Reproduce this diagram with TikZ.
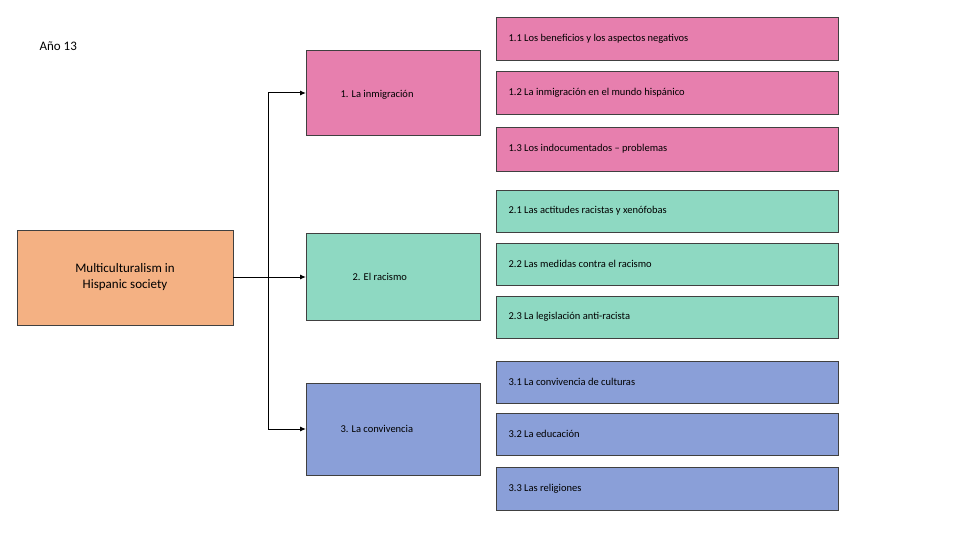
\documentclass[tikz,border=0pt]{standalone}
\usepackage{fontspec}
\setmainfont{Carlito}
\usetikzlibrary{arrows.meta}
\definecolor{pinkbox}{HTML}{E77FAE}
\definecolor{greenbox}{HTML}{8ED9C2}
\definecolor{bluebox}{HTML}{8A9FD8}
\definecolor{orangebox}{HTML}{F4B183}
\tikzset{
  box/.style={draw=black!75, line width=0.6pt, inner sep=0pt},
  lab/.style={anchor=west, font=\fontsize{10.5}{12}\selectfont},
  link/.style={line width=1pt, -{Latex[length=6pt,width=5pt]}}
}
\begin{document}
\begin{tikzpicture}[x=1pt,y=-1pt]
\useasboundingbox (0,0) rectangle (960,540);
\node[anchor=west, font=\fontsize{13}{15}\selectfont] (year) at (36,46) {Año 13};
% main box
\draw[box, fill=orangebox] (17,230) rectangle (233,325);
\node[align=center, font=\fontsize{13}{16}\selectfont] (main) at (125,277) {Multiculturalism in\\Hispanic society};
% level one
\draw[box, fill=pinkbox] (306,50) rectangle (480,135);
\draw[box, fill=greenbox] (306,233) rectangle (480,320);
\draw[box, fill=bluebox] (306,383) rectangle (480,475);
\node[lab] (t1) at (337,95) {1. La inmigración};
\node[lab] (t2) at (349,277) {2. El racismo};
\node[lab] (t3) at (337,429) {3. La convivencia};
% level two
\foreach \ya/\yb/\c/\txt in {17/60/pinkbox/{1.1 Los beneficios y los aspectos negativos},
  71/114/pinkbox/{1.2 La inmigración en el mundo hispánico},
  127/171/pinkbox/{1.3 Los indocumentados -- problemas},
  190/232/greenbox/{2.1 Las actitudes racistas y xenófobas},
  243/285/greenbox/{2.2 Las medidas contra el racismo},
  296/338/greenbox/{2.3 La legislación anti-racista},
  361/403/bluebox/{3.1 La convivencia de culturas},
  413/455/bluebox/{3.2 La educación},
  467/510/bluebox/{3.3 Las religiones}}{
  \draw[box, fill=\c] (496,\ya) rectangle (838,\yb);
  \node[lab] at (505,{(\ya+\yb)/2}) {\txt};
}
% connectors
\coordinate (mainout) at (233,277);
\coordinate (in1) at (306,93);
\coordinate (in2) at (306,277);
\coordinate (in3) at (306,429);
\coordinate (top) at (268,93);
\coordinate (bot) at (268,429);
\draw[link] (mainout) -- (in2);
\draw[link] (top) -- (in1);
\draw[link] (bot) -- (in3);
\draw[line width=1pt] (top) -- (bot);
\end{tikzpicture}
\end{document}
